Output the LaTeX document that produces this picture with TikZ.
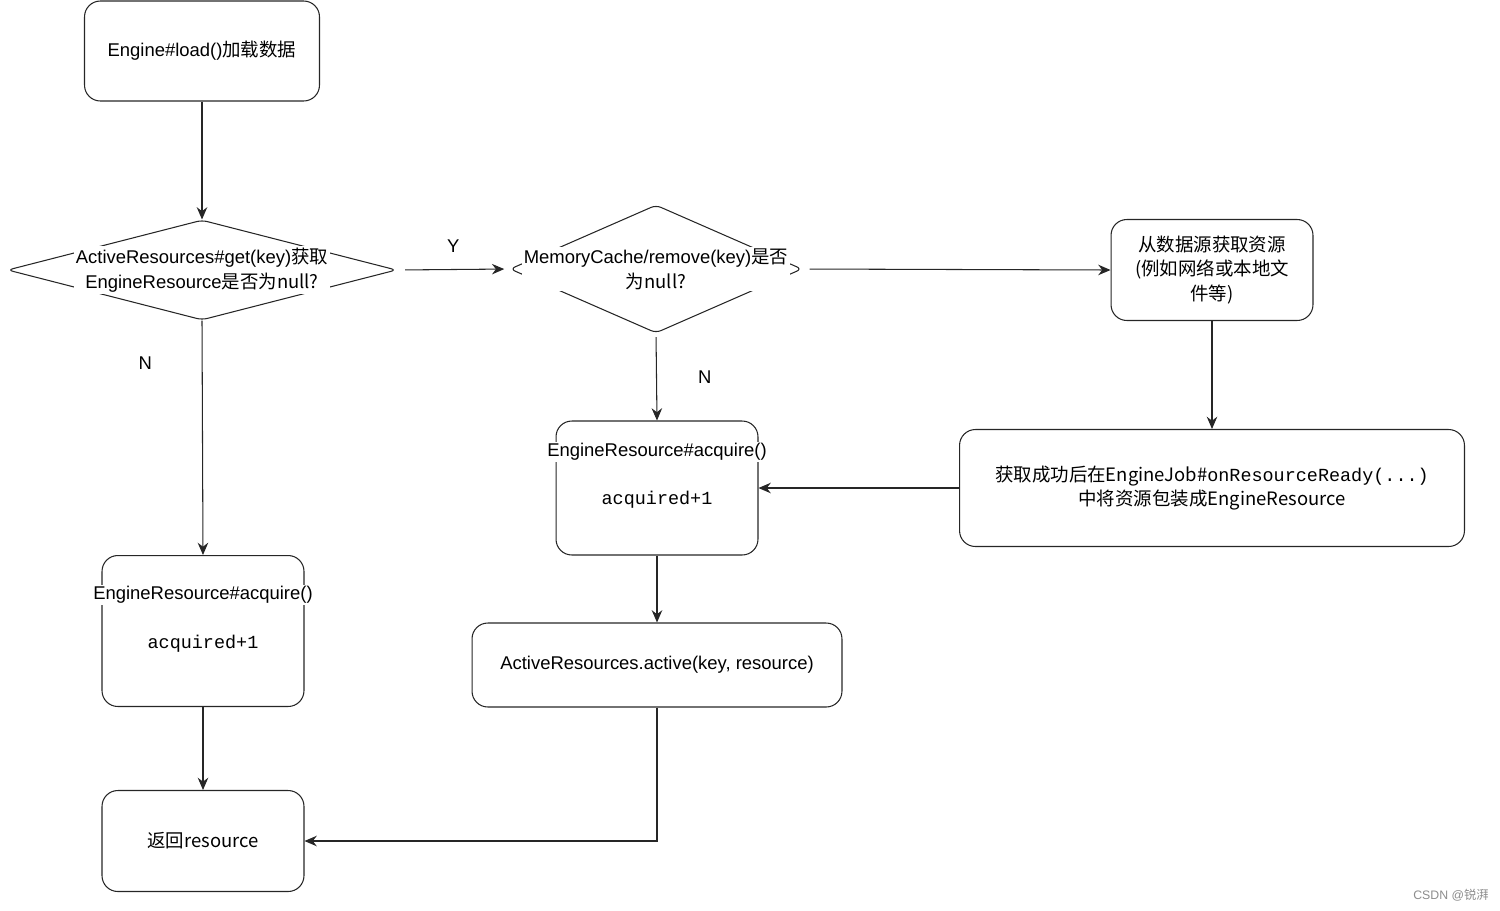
\documentclass[tikz,border=0pt]{standalone}
\usepackage{fontspec}
\setmainfont{Liberation Sans}
\newfontfamily\cjk{Noto Sans CJK SC}
\newfontfamily\mono{Liberation Mono}
\usetikzlibrary{shapes.geometric,arrows.meta}
\begin{document}
\begin{tikzpicture}[x=0.02cm,y=-0.02cm,
  every node/.style={font=\fontsize{10.5}{14}\selectfont},
  box/.style={draw=black!85,line width=0.6pt,rounded corners=9pt,inner sep=0pt},
  dia/.style={draw=black!85,line width=0.6pt,diamond,inner sep=0pt,rounded corners=3pt},
  lbl/.style={fill=white,inner sep=1pt,align=center},
  arr/.style={draw=black!85,line width=0.6pt,-{Stealth[length=7pt,width=6pt]}}]
\useasboundingbox (0,0) rectangle (1500,910);
\node[box,minimum width=4.7cm,minimum height=2cm] (a) at (202,51) {Engine\#load()\cjk{加载数据}};
\node[dia,minimum width=7.78cm,minimum height=2cm] (d1) at (202,270) {};
\node[lbl] (d1t) at (202,270) {ActiveResources\#get(key)\cjk{获取}\\EngineResource\cjk{是否为}null?};
\node[dia,minimum width=5.84cm,minimum height=2.56cm] (d2) at (656,269) {};
\node[lbl] (d2t) at (656,269) {MemoryCache/remove(key)\cjk{是否}\\\cjk{为}null?};
\node[box,minimum width=4.04cm,minimum height=2.02cm,align=center] (b) at (1212,270) {\cjk{从数据源获取资源}\\\cjk{(例如网络或本地文}\\\cjk{件等)}};
\node[box,minimum width=10.1cm,minimum height=2.34cm,align=center] (c) at (1212,488) {\cjk{获取成功后在}EngineJob\#{\mono onResourceReady(...)}\\\cjk{中将资源包装成}EngineResource};
\node[box,minimum width=4.04cm,minimum height=2.68cm] (e) at (657,488) {};
\node[lbl] (e1) at (657,452) {EngineResource\#acquire()};
\node[lbl] (e2) at (657,500) {\mono acquired+1};
\node[box,minimum width=7.4cm,minimum height=1.68cm] (f) at (657,665) {ActiveResources.active(key, resource)};
\node[box,minimum width=4.04cm,minimum height=3.02cm] (g) at (203,631) {};
\node[lbl] (g1) at (203,595) {EngineResource\#acquire()};
\node[lbl] (g2) at (203,644) {\mono acquired+1};
\node[box,minimum width=4.04cm,minimum height=2.02cm] (h) at (203,841) {\cjk{返回}resource};
\coordinate (fh) at (657,841);
\draw[arr] (a) -- (d1);
\draw[arr,shorten <=8pt*0.57,shorten >=3pt] (d1.east) -- node[above=6pt] {Y} (d2.west);
\draw[arr,shorten <=4pt] (d2.east) -- (b.west);
\draw[arr] (d1.south) -- node[pos=0.18,left=25pt] {N} (g.north);
\draw[arr,shorten <=2pt] (d2.south) -- node[right=20pt] {N} (e.north);
\draw[arr] (b) -- (c);
\draw[arr] (c.west) -- (e.east);
\draw[arr] (e) -- (f);
\draw[arr] (g) -- (h);
\draw[arr] (f.south) -- (fh) -- (h.east);
\node[text=black!45,font=\fontsize{7}{8}\selectfont] (wm) at (1451,895) {CSDN @\cjk{锐湃}};
\end{tikzpicture}
\end{document}
